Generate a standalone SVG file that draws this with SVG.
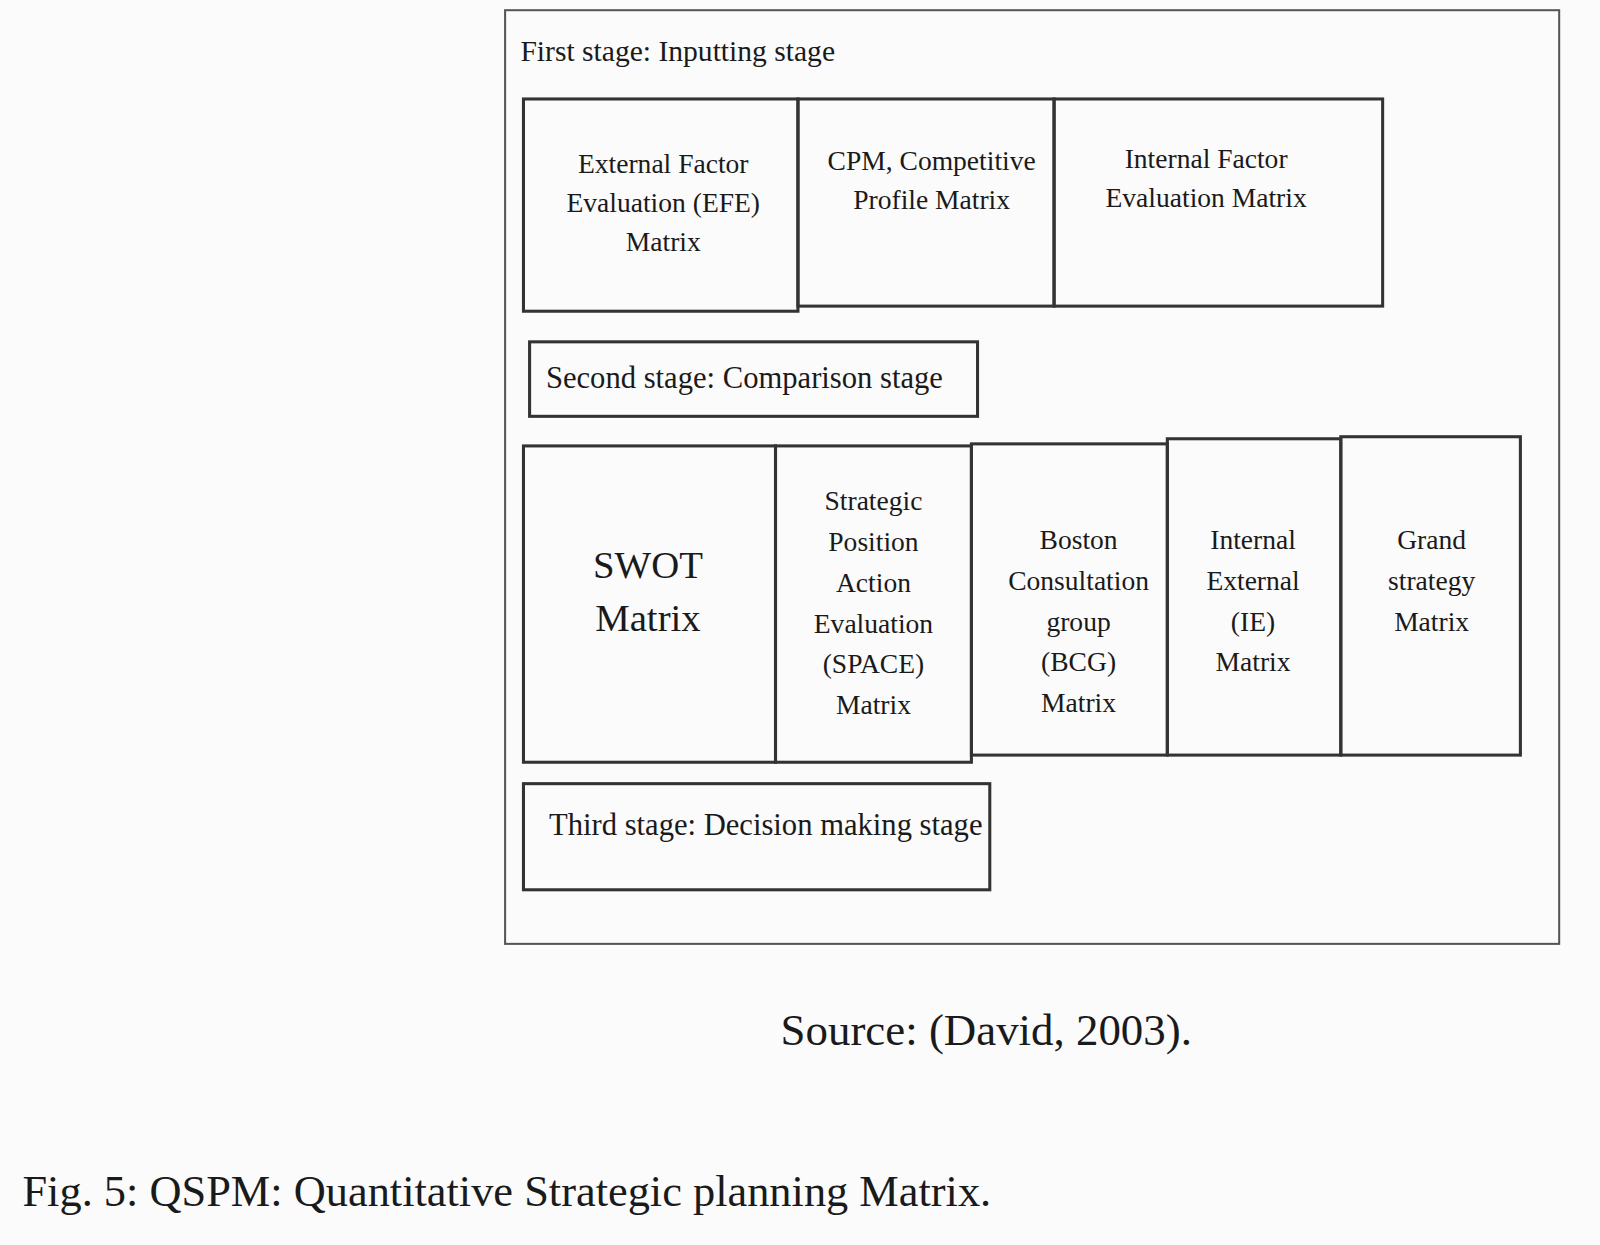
<svg xmlns="http://www.w3.org/2000/svg" width="1600" height="1245" viewBox="0 0 1600 1245">
<style>
.ln{stroke:#333;stroke-width:3;fill:none}
.lt{stroke:#555;stroke-width:2;fill:none}
.t{font-family:"Liberation Serif","Times New Roman",serif;fill:#1a1a1a}
.c{text-anchor:middle;font-size:27px}
.s{font-size:30px}
</style>
<rect width="1600" height="1245" fill="#fbfbfb"/>
<g transform="scale(1.0204)">
<g id="frame">
<rect x="495" y="10" width="1033" height="915" class="lt"/>
</g>
<g id="stage1-label"><text class="t" font-size="29" x="510" y="60">First stage: Inputting stage</text></g>
<g id="efe"><rect x="513" y="97" width="269" height="208" class="ln"/>
<text class="t c" x="650" y="170">External Factor</text><text class="t c" x="650" y="208">Evaluation (EFE)</text><text class="t c" x="650" y="246">Matrix</text></g>
<g id="cpm"><rect x="782" y="97" width="251" height="203" class="ln"/>
<text class="t c" x="913" y="167">CPM, Competitive</text><text class="t c" x="913" y="205">Profile Matrix</text></g>
<g id="ife"><rect x="1033" y="97" width="322" height="203" class="ln"/>
<text class="t c" x="1182" y="165">Internal Factor</text><text class="t c" x="1182" y="203">Evaluation Matrix</text></g>
<g id="stage2"><rect x="519" y="335" width="439" height="73" class="ln"/>
<text class="t s" x="535" y="380">Second stage: Comparison stage</text></g>
<g id="swot"><rect x="513" y="437" width="247" height="310" class="ln"/>
<text class="t" x="635" y="566" text-anchor="middle" font-size="38">SWOT</text><text class="t" x="635" y="618" text-anchor="middle" font-size="38">Matrix</text></g>
<g id="space"><rect x="760" y="437" width="192" height="310" class="ln"/>
<text class="t c" x="856" y="500">Strategic</text><text class="t c" x="856" y="540">Position</text><text class="t c" x="856" y="580">Action</text><text class="t c" x="856" y="620">Evaluation</text><text class="t c" x="856" y="660">(SPACE)</text><text class="t c" x="856" y="700">Matrix</text></g>
<g id="bcg"><rect x="952" y="435" width="192" height="305" class="ln"/>
<text class="t c" x="1057" y="538">Boston</text><text class="t c" x="1057" y="578">Consultation</text><text class="t c" x="1057" y="618">group</text><text class="t c" x="1057" y="658">(BCG)</text><text class="t c" x="1057" y="698">Matrix</text></g>
<g id="ie"><rect x="1144" y="430" width="170" height="310" class="ln"/>
<text class="t c" x="1228" y="538">Internal</text><text class="t c" x="1228" y="578">External</text><text class="t c" x="1228" y="618">(IE)</text><text class="t c" x="1228" y="658">Matrix</text></g>
<g id="grand"><rect x="1314" y="428" width="176" height="312" class="ln"/>
<text class="t c" x="1403" y="538">Grand</text><text class="t c" x="1403" y="578">strategy</text><text class="t c" x="1403" y="618">Matrix</text></g>
<g id="stage3"><rect x="513" y="768" width="457" height="104" class="ln"/>
<text class="t s" x="538" y="818">Third stage: Decision making stage</text></g>
<g id="connectors"></g>
<g id="source"><text class="t" x="765" y="1024" font-size="44">Source: (David, 2003).</text></g>
<g id="caption"><text class="t" x="22" y="1182" font-size="43.5">Fig. 5: QSPM: Quantitative Strategic planning Matrix.</text></g>
</g>
</svg>
